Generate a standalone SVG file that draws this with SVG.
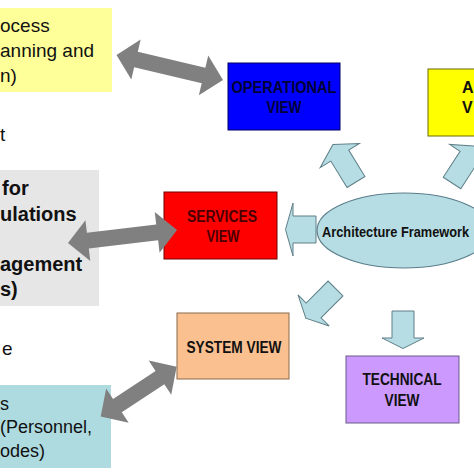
<svg xmlns="http://www.w3.org/2000/svg" width="474" height="474" viewBox="0 0 474 474">
<style>
.side{font-family:"Liberation Sans",Arial,sans-serif;font-size:19px;fill:#111}
.sideb{font-family:"Liberation Sans",Arial,sans-serif;font-size:20px;font-weight:bold;fill:#111}
.lbl{font-family:"Liberation Sans",Arial,sans-serif;font-size:16px;font-weight:bold;text-anchor:middle}
.blk{fill:#b6dde3;stroke:#5f7f88;stroke-width:1}
.dbl{fill:#808080}
</style>
<rect width="474" height="474" fill="#ffffff"/>
<g id="process-box">
<rect x="-10" y="8" width="122" height="84" fill="#ffff99"/>
<text class="side" x="0" y="32">ocess</text>
<text class="side" x="0" y="57">anning and</text>
<text class="side" x="0" y="82">n)</text>
</g>
<g id="text-t"><text class="side" x="0" y="141">t</text></g>
<g id="gray-box">
<rect x="-10" y="170" width="109" height="136" fill="#e6e6e6"/>
<text class="sideb" x="2" y="195">for</text>
<text class="sideb" x="0" y="221">ulations</text>
<text class="sideb" x="0" y="271">agement</text>
<text class="sideb" x="0" y="296">s)</text>
</g>
<g id="text-e"><text class="side" x="2" y="355">e</text></g>
<g id="teal-box">
<rect x="-10" y="385" width="121" height="83" fill="#addbe0"/>
<text class="side" x="0" y="410" style="font-size:18px">s</text>
<text class="side" x="0" y="433" style="font-size:18px">(Personnel,</text>
<text class="side" x="0" y="457" style="font-size:18px">odes)</text>
</g>
<g id="operational-view">
<rect x="228" y="63" width="112" height="67" fill="#0000ff" stroke="#000060" stroke-width="1"/>
<text class="lbl" x="284" y="93" fill="#000038" textLength="105" lengthAdjust="spacingAndGlyphs">OPERATIONAL</text>
<text class="lbl" x="284" y="113" fill="#000038" textLength="35" lengthAdjust="spacingAndGlyphs">VIEW</text>
</g>
<g id="all-view">
<rect x="428" y="69" width="120" height="67" fill="#ffff00" stroke="#6b6b00" stroke-width="1"/>
<text class="lbl" x="462" y="93" fill="#111" style="text-anchor:start">A</text>
<text class="lbl" x="462" y="113" fill="#111" style="text-anchor:start">V</text>
</g>
<g id="services-view">
<rect x="164" y="192" width="113" height="67" fill="#ff0000" stroke="#700000" stroke-width="1"/>
<text class="lbl" x="222" y="222" fill="#4a0000" textLength="70" lengthAdjust="spacingAndGlyphs">SERVICES</text>
<text class="lbl" x="223" y="242" fill="#4a0000" textLength="33" lengthAdjust="spacingAndGlyphs">VIEW</text>
</g>
<g id="system-view">
<rect x="177" y="313" width="112" height="66" fill="#fac090" stroke="#8c6a4a" stroke-width="1"/>
<text class="lbl" x="234" y="353" fill="#111" textLength="95" lengthAdjust="spacingAndGlyphs">SYSTEM VIEW</text>
</g>
<g id="technical-view">
<rect x="346" y="356" width="113" height="67" fill="#cc99ff" stroke="#6a5a8a" stroke-width="1"/>
<text class="lbl" x="402" y="385" fill="#111" textLength="79" lengthAdjust="spacingAndGlyphs">TECHNICAL</text>
<text class="lbl" x="402" y="406" fill="#111" textLength="35" lengthAdjust="spacingAndGlyphs">VIEW</text>
</g>
<g id="architecture-framework">
<ellipse cx="404" cy="230.5" rx="87" ry="37.5" fill="#b6dde3" stroke="#5a7d8a" stroke-width="1.2"/>
<text class="lbl" x="322" y="206.1" transform="scale(1,1.15)" fill="#111" style="text-anchor:start;font-size:12.8px">Architecture Framework</text>
</g>
<g id="connectors">
<path class="blk" transform="translate(356,182) rotate(-31.6)" d="M-10.5,0 L10.5,0 L10.5,-31 L23,-31 L0,-44 L-23,-31 L-10.5,-31 Z"/>
<path class="blk" transform="translate(452,183) rotate(33)" d="M-10.5,0 L10.5,0 L10.5,-31 L23,-31 L0,-44 L-23,-31 L-10.5,-31 Z"/>
<path class="blk" d="M316,216 L293,216 L293,203 L285.5,229.5 L293,256 L293,243 L316,243 Z"/>
<path class="blk" transform="translate(335.5,288.5) rotate(-135)" d="M-10.5,0 L10.5,0 L10.5,-31 L22,-31 L0,-42 L-22,-31 L-10.5,-31 Z"/>
<path class="blk" d="M392,311 L414,311 L414,338 L424,338 L403,348.5 L382,338 L392,338 Z"/>
<path class="dbl" transform="translate(116.5,55) rotate(13.2)" d="M0,0 L20,-20.5 L20,-8 L89.4,-8 L89.4,-20.5 L109.4,0 L89.4,20.5 L89.4,8 L20,8 L20,20.5 Z"/>
<path class="dbl" transform="translate(68,243) rotate(-6.8)" d="M0,0 L20,-20.5 L20,-8 L89.8,-8 L89.8,-20.5 L109.8,0 L89.8,20.5 L89.8,8 L20,8 L20,20.5 Z"/>
<path class="dbl" transform="translate(100.7,416.6) rotate(-33.3)" d="M0,0 L20,-20.5 L20,-8 L70.9,-8 L70.9,-20.5 L90.9,0 L70.9,20.5 L70.9,8 L20,8 L20,20.5 Z"/>
</g>
</svg>
